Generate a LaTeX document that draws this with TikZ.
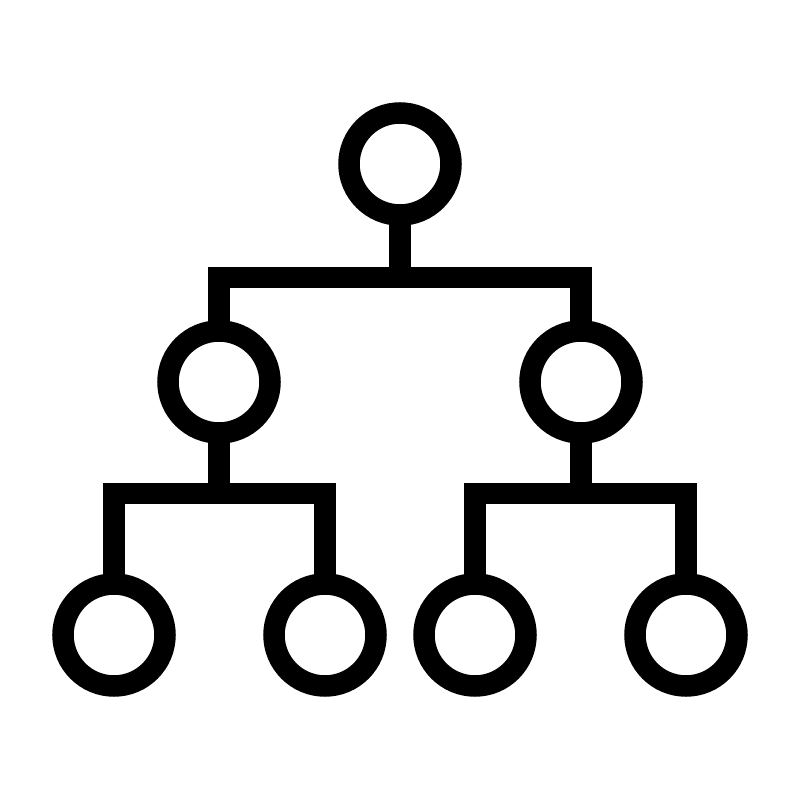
\documentclass[tikz,border=0pt]{standalone}
\begin{document}
\begin{tikzpicture}[x=1pt,y=1pt,
  ring/.style={circle,draw=black,line width=21.5pt,minimum size=102pt,inner sep=0pt,outer sep=0pt},
  link/.style={draw=black,line width=21.5pt,line join=miter,line cap=butt}]
\useasboundingbox (0,0) rectangle (800,800);
\fill[white] (0,0) rectangle (800,800);
% nodes
\node[ring] (root) at (400,636) {};
\node[ring] (ml) at (219,418) {};
\node[ring] (mr) at (581,418) {};
\node[ring] (b1) at (114,165) {};
\node[ring] (b2) at (325,165) {};
\node[ring] (b3) at (475,165) {};
\node[ring] (b4) at (686,165) {};
% bar levels
\coordinate (bar1) at (400,522.5);
\coordinate (bar2) at (0,306.5);
% connectors
\path[link] (root.south) -- (root.south |- bar1);
\path[link] (ml.north) -- (ml.north |- bar1) -- (mr.north |- bar1) -- (mr.north);
\path[link] (ml.south) -- (ml.south |- bar2);
\path[link] (b1.north) -- (b1.north |- bar2) -- (b2.north |- bar2) -- (b2.north);
\path[link] (mr.south) -- (mr.south |- bar2);
\path[link] (b3.north) -- (b3.north |- bar2) -- (b4.north |- bar2) -- (b4.north);
\end{tikzpicture}
\end{document}
